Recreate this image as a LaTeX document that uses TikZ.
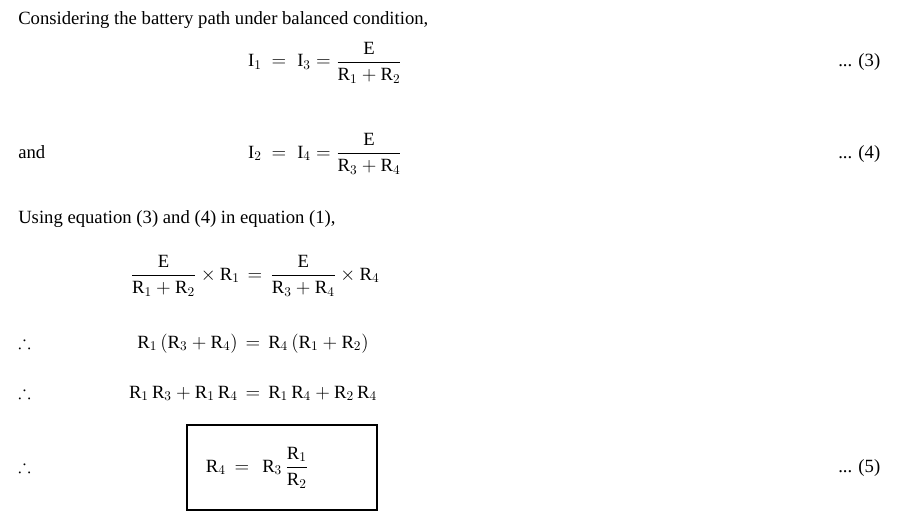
\documentclass[tikz,border=0pt]{standalone}
\usepackage{amsmath,amssymb}
\usepackage{fontspec}
\setmainfont{Liberation Serif}
\newcommand{\Rr}[1]{\mathrm{R}_{#1}}
\newcommand{\Ii}[1]{\mathrm{I}_{#1}}
\begin{document}
\begin{tikzpicture}[x=0.75pt,y=-0.75pt,
  txt/.style={anchor=base west,inner sep=0pt,font=\fontsize{14}{16}\selectfont},
  lft/.style={anchor=base east,inner sep=0pt,font=\fontsize{14}{16}\selectfont},
  mid/.style={anchor=base,inner sep=0pt,font=\fontsize{14}{16}\selectfont}]
\useasboundingbox (0,0) rectangle (922,517);
\node[txt] (l1) at (18,25) {Considering the battery path under balanced condition,};
% eq 3
\node[lft] (a3) at (262,67) {$\Ii1$};
\node[mid] (e3) at (279,67) {$=$};
\node[txt] (b3) at (297,67) {$\Ii3 = \dfrac{\mathrm{E}}{\Rr1+\Rr2}$};
\node[txt] (n3) at (838,67) {... (3)};
% eq 4
\node[txt] (and) at (18,158) {and};
\node[lft] (a4) at (262,158) {$\Ii2$};
\node[mid] (e4) at (279,158) {$=$};
\node[txt] (b4) at (297,158) {$\Ii4 = \dfrac{\mathrm{E}}{\Rr3+\Rr4}$};
\node[txt] (n4) at (838,158) {... (4)};
\node[txt] (l2) at (18,223) {Using equation (3) and (4) in equation (1),};
% eq
\node[lft] (a5) at (240,280) {$\dfrac{\mathrm{E}}{\Rr1+\Rr2}\times\Rr1$};
\node[mid] (e5) at (255,280) {$=$};
\node[txt] (b5) at (270,280) {$\dfrac{\mathrm{E}}{\Rr3+\Rr4}\times\Rr4$};
\node[txt] (t1) at (18,348) {$\therefore$};
\node[lft] (a6) at (238,348) {$\Rr1\,(\Rr3+\Rr4)$};
\node[mid] (e6) at (253,348) {$=$};
\node[txt] (b6) at (268,348) {$\Rr4\,(\Rr1+\Rr2)$};
\node[txt] (t2) at (18,398) {$\therefore$};
\node[lft] (a7) at (238,398) {$\Rr1\,\Rr3+\Rr1\,\Rr4$};
\node[mid] (e7) at (253,398) {$=$};
\node[txt] (b7) at (268,398) {$\Rr1\,\Rr4+\Rr2\,\Rr4$};
% boxed
\node[txt] (t3) at (18,472) {$\therefore$};
\draw[line width=0.9pt] (187,425) rectangle (377,510);
\node[lft] (a8) at (226,472) {$\Rr4$};
\node[mid] (e8) at (242,472) {$=$};
\node[txt] (b8) at (262,472) {$\Rr3\,\dfrac{\Rr1}{\Rr2}$};
\node[txt] (n5) at (838,472) {... (5)};
\end{tikzpicture}
\end{document}
